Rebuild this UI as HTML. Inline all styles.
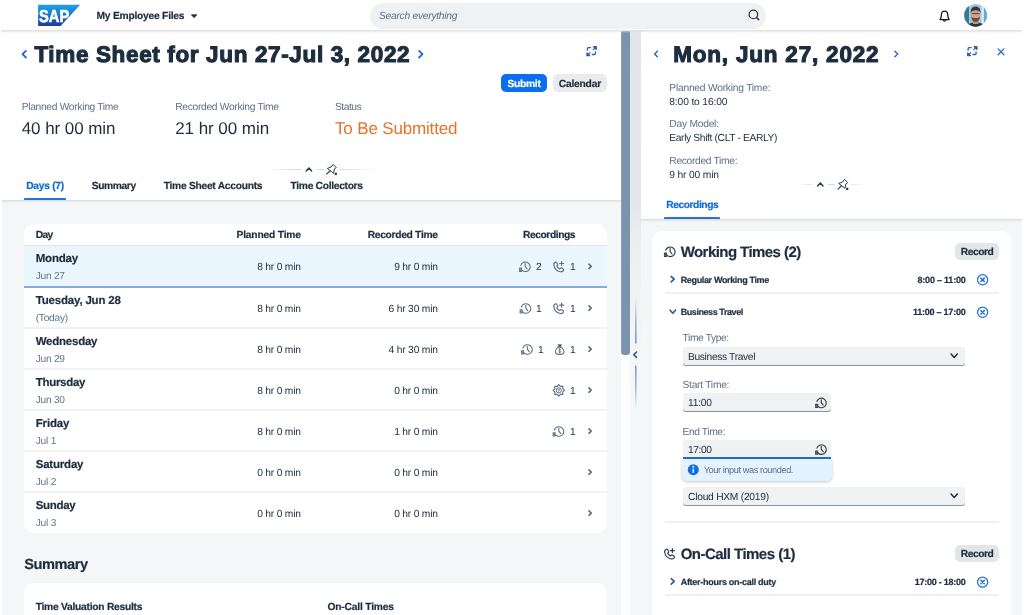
<!DOCTYPE html>
<html lang="en">
<head>
<meta charset="utf-8">
<title>Time Sheet</title>
<style>
*{box-sizing:border-box;margin:0;padding:0}
html,body{width:1024px;height:615px;overflow:hidden;background:#fff;font-family:"Liberation Sans",sans-serif;color:#1d2d3e;font-size:10.5px;text-rendering:geometricPrecision}
body{position:relative}
.a{position:absolute;white-space:nowrap;line-height:1}
.b{font-weight:bold;-webkit-text-stroke:0.2px currentColor}
.i{font-style:italic}
.p{position:absolute}
svg{position:absolute;overflow:visible}
#shell{left:0;top:0;width:1024px;height:30px;background:#fff}
.shd{position:absolute;height:3px;background:linear-gradient(180deg,rgba(204,208,213,.62) 0,rgba(210,214,218,.62) 33%,rgba(222,225,228,.4) 66%,rgba(235,238,240,0) 100%)}
#search{left:370px;top:3px;width:396px;height:26px;border-radius:13px;background:#eff1f2}
#page{left:2px;top:31px;width:1020px;height:584px;background:#f5f6f7}
#lhead{left:0;top:31px;width:621px;height:169px;background:#fff}
#rhead{left:641px;top:31px;width:383px;height:188px;background:#fff}
#sbtrack{left:621px;top:31px;width:9px;height:584px;background:#fdfdfe}
#strip{left:630px;top:31px;width:11px;height:584px;background:linear-gradient(180deg,#e2e5e8 0,#e4e7ea 169px,#eceef0 215px,#f1f3f4 280px,#f5f6f7 340px)}
#sbthumb{left:621px;top:31px;width:9px;height:324px;background:#7b93ad;border-radius:1px 1px 3px 3px;box-shadow:inset 0.5px 0 0 rgba(255,255,255,.25)}
.btn{position:absolute;border-radius:5px}
.card{position:absolute;background:#fff;border-radius:10px}
.rsep{position:absolute;left:24px;width:583px;height:2px;background:linear-gradient(180deg,#f3f5f7 0,#edeff2 50%,#f3f5f7 100%)}
.inp{position:absolute;background:#eff1f2;border-radius:3px;box-shadow:0 1px 0 #8593a2}
.irow{position:absolute;left:665px;width:334px;height:2px;border-radius:1px;background:linear-gradient(180deg,#f1f3f5 0,#e9ecef 55%,#f3f5f6 100%)}
.cbtn{position:absolute;width:16px;height:16px;border-radius:8px;background:#fff;box-shadow:0 0 2px rgba(34,53,72,.06)}
</style>
</head>
<body>
<div class="p" id="page"></div>
<div class="p" id="sbtrack"></div>
<div class="p" id="strip"></div>
<div class="p" id="sbthumb"></div>

<!-- left body -->
<div class="card" style="left:24px;top:223.5px;width:583px;height:309px"></div>
<div class="p" style="left:24px;top:245px;width:583px;height:43px;background:#ebf7ff;border-top:1px solid #dfe4e9;border-bottom:2px solid #86abdf"></div>
<div class="rsep" style="top:327px"></div>
<div class="rsep" style="top:368px"></div>
<div class="rsep" style="top:409px"></div>
<div class="rsep" style="top:450px"></div>
<div class="rsep" style="top:491px"></div>
<div class="card" style="left:24px;top:582.5px;width:583px;height:60px"></div>

<!-- right body -->
<div class="card" style="left:651.7px;top:231px;width:359px;height:420px"></div>
<div class="irow" style="top:291.5px"></div>
<div class="irow" style="top:520.5px"></div>
<div class="irow" style="top:593.5px"></div>
<div class="btn" style="left:955px;top:242.7px;width:43.7px;height:17px;background:#e3e6e9"></div>
<div class="btn" style="left:955px;top:545.3px;width:43.7px;height:17px;background:#e3e6e9"></div>
<div class="inp" style="left:682.5px;top:346.8px;width:282.5px;height:18px"></div>
<div class="inp" style="left:682.5px;top:393px;width:148.8px;height:18px"></div>
<div class="inp" style="left:682.5px;top:440px;width:148.8px;height:17px;box-shadow:none;border-radius:3px 3px 0 0"></div>
<div class="p" style="left:682.5px;top:457px;width:148.8px;height:1.5px;background:#1f6fcb"></div>
<div class="inp" style="left:682.5px;top:486.8px;width:282.5px;height:18px"></div>
<div class="p" style="left:682px;top:458.5px;width:150px;height:22.5px;background:#e4f2fe;border-radius:0 0 5px 5px;box-shadow:0 1px 3px rgba(34,53,72,.28)"></div>

<!-- heads -->
<div class="p" id="lhead"></div>
<div class="p" id="rhead"></div>
<div class="btn" style="left:501px;top:74px;width:46px;height:18px;background:#0a6fee"></div>
<div class="btn" style="left:553px;top:74px;width:54px;height:18px;background:#e9ebed"></div>
<div class="p" style="left:24.2px;top:198.3px;width:42px;height:2.2px;background:#2574d4;border-radius:1px 1px 0 0"></div>
<div class="p" style="left:664.2px;top:217.3px;width:56.3px;height:2.2px;background:#2574d4;border-radius:1px 1px 0 0"></div>
<div class="p" style="left:265px;top:169px;width:111px;height:1px;background:linear-gradient(90deg,rgba(205,209,214,0),rgba(205,209,214,.8) 30%,rgba(205,209,214,.8) 70%,rgba(205,209,214,0))"></div>
<div class="cbtn" style="left:301px;top:161.5px"></div>
<div class="cbtn" style="left:323.5px;top:161.5px"></div>
<div class="p" style="left:796px;top:184px;width:70px;height:1px;background:linear-gradient(90deg,rgba(205,209,214,0),rgba(205,209,214,.8) 30%,rgba(205,209,214,.8) 70%,rgba(205,209,214,0))"></div>
<div class="cbtn" style="left:812px;top:176.5px"></div>
<div class="cbtn" style="left:835px;top:176.5px"></div>

<div class="shd" style="left:2px;top:200px;width:619px"></div>
<div class="shd" style="left:641px;top:219px;width:381px"></div>
<div class="p" id="shell"></div>
<div class="shd" style="left:1px;top:30px;width:1021px"></div>
<div class="p" id="search"></div>

<svg width="1024" height="615" viewBox="0 0 1024 615" style="left:0;top:0">
<defs><linearGradient id="sapg" x1="0" y1="0" x2="0" y2="1"><stop offset="0" stop-color="#1f9fe5"/><stop offset="0.4" stop-color="#1c80d2"/><stop offset="0.8" stop-color="#1d4fae"/><stop offset="1" stop-color="#1c3f9a"/></linearGradient><clipPath id="avc"><circle cx="975.6" cy="15.3" r="11.4"/></clipPath></defs>
<polygon points="38.1,4.8 80.2,4.8 60.6,25.9 38.1,25.9" fill="url(#sapg)"/>
<text x="39" y="21.6" font-family="Liberation Sans, sans-serif" font-weight="bold" font-size="17.2" fill="#fff" textLength="30.2" lengthAdjust="spacingAndGlyphs" stroke="#fff" stroke-width="0.6">SAP</text>
<path d="M191.4 14.8 H196.8 L194.1 17.7 Z" fill="#1d2d3e" stroke="#1d2d3e" stroke-width="0.8" stroke-linejoin="round"/>
<circle cx="753.4" cy="14.4" r="4.25" fill="none" stroke="#2a3746" stroke-width="1.3"/><path d="M756.6 17.6 L758.7 19.6" stroke="#2a3746" stroke-width="1.5" stroke-linecap="round"/>
<path d="M940 19.6 C941.3 18.2 941.4 16.8 941.4 15 C941.4 12.6 942.8 11.1 944.6 11.1 C946.4 11.1 947.8 12.6 947.8 15 C947.8 16.8 947.9 18.2 949.2 19.6 Z" fill="none" stroke="#111a24" stroke-width="1.25" stroke-linejoin="round"/><path d="M943.4 20.6 Q944.6 21.8 945.8 20.6" fill="none" stroke="#111a24" stroke-width="1.2" stroke-linecap="round"/>
<g clip-path="url(#avc)"><rect x="964" y="3.5" width="23.5" height="23.5" fill="#9fc9e2"/><rect x="964" y="3.5" width="5" height="23.5" fill="#3b7892"/><rect x="981.5" y="3.5" width="2.2" height="23.5" fill="#dbeef8"/><rect x="984" y="3.5" width="3.6" height="23.5" fill="#6fa8c6"/><ellipse cx="975.6" cy="27.5" rx="9.5" ry="5.2" fill="#27383d"/><rect x="973" y="19" width="5.4" height="5" fill="#c98e78"/><ellipse cx="975.6" cy="15" rx="4.7" ry="6" fill="#d3a08a"/><path d="M970.7 13.2 C970.4 8.6 972.6 6.6 975.6 6.6 C978.6 6.6 980.8 8.6 980.5 13.2 C979.8 11 978.6 10.2 975.6 10.2 C972.6 10.2 971.4 11 970.7 13.2 Z" fill="#3a3634"/><path d="M971.2 16.4 C971.6 20.4 973.4 21.8 975.6 21.8 C977.8 21.8 979.6 20.4 980 16.4 C978.8 18.2 977.4 18 975.6 18 C973.8 18 972.4 18.2 971.2 16.4 Z" fill="#6a4a3c"/><path d="M971.6 13.6 H979.6" stroke="#4a3c38" stroke-width="0.9"/></g>
<path d="M25.90 50.90 L22.50 54.20 L25.90 57.50" fill="none" stroke="#1f66c9" stroke-width="1.8" stroke-linecap="round" stroke-linejoin="round"/>
<path d="M419.10 50.90 L422.50 54.20 L419.10 57.50" fill="none" stroke="#1f66c9" stroke-width="1.8" stroke-linecap="round" stroke-linejoin="round"/>
<g transform="translate(586.2 45.9)" ><path d="M1.2 4.3 V2.8 Q1.2 1.8 2.2 1.8 H4.3 M9.2 6.1 V7.6 Q9.2 8.6 8.2 8.6 H6.1" fill="none" stroke="#2f5cae" stroke-width="1.3" stroke-linecap="round" stroke-linejoin="round"/><path d="M7.2 0.7 H10.1 V3.6 Z M0.7 6.9 V9.8 H3.6 Z" fill="#2f5cae" stroke="#2f5cae" stroke-width="1.1" stroke-linejoin="round"/><path d="M9.6 1.2 L7 3.8 M1.2 9.3 L3.8 6.7" stroke="#2f5cae" stroke-width="1.2" stroke-linecap="round"/></g>
<path d="M306.20 170.95 L308.90 168.05 L311.60 170.95" fill="none" stroke="#2b3a4a" stroke-width="1.5" stroke-linecap="round" stroke-linejoin="round"/>
<g transform="translate(331.5 169.4)"><path d="M1.6 -5 L4.8 -1.8 L2.9 -0.5 L2.1 3.9 L-4.2 -1 L-0.3 -2.4 Z" fill="none" stroke="#2b3a4a" stroke-width="1" stroke-linejoin="round"/><path d="M-1.6 1.6 L-4.9 4.7" stroke="#2b3a4a" stroke-width="1.1" stroke-linecap="round"/><path d="M3.4 3.5 L5.2 5.3 M5.2 3.5 L3.4 5.3" stroke="#2b3a4a" stroke-width="1.35" stroke-linecap="butt"/></g>
<path d="M657.40 51.20 L654.60 54.00 L657.40 56.80" fill="none" stroke="#2a6cc6" stroke-width="1.5" stroke-linecap="round" stroke-linejoin="round"/>
<path d="M894.90 51.20 L897.70 54.00 L894.90 56.80" fill="none" stroke="#2a6cc6" stroke-width="1.5" stroke-linecap="round" stroke-linejoin="round"/>
<g transform="translate(966.9 45.9)" ><path d="M1.2 4.3 V2.8 Q1.2 1.8 2.2 1.8 H4.3 M9.2 6.1 V7.6 Q9.2 8.6 8.2 8.6 H6.1" fill="none" stroke="#2f5cae" stroke-width="1.3" stroke-linecap="round" stroke-linejoin="round"/><path d="M7.2 0.7 H10.1 V3.6 Z M0.7 6.9 V9.8 H3.6 Z" fill="#2f5cae" stroke="#2f5cae" stroke-width="1.1" stroke-linejoin="round"/><path d="M9.6 1.2 L7 3.8 M1.2 9.3 L3.8 6.7" stroke="#2f5cae" stroke-width="1.2" stroke-linecap="round"/></g>
<path d="M998.1 48.9 L1003.9 54.699999999999996 M1003.9 48.9 L998.1 54.699999999999996" stroke="#2a6cc6" stroke-width="1.3" stroke-linecap="round"/>
<path d="M817.60 185.95 L820.30 183.05 L823.00 185.95" fill="none" stroke="#2b3a4a" stroke-width="1.5" stroke-linecap="round" stroke-linejoin="round"/>
<g transform="translate(842.9 184.4)"><path d="M1.6 -5 L4.8 -1.8 L2.9 -0.5 L2.1 3.9 L-4.2 -1 L-0.3 -2.4 Z" fill="none" stroke="#2b3a4a" stroke-width="1" stroke-linejoin="round"/><path d="M-1.6 1.6 L-4.9 4.7" stroke="#2b3a4a" stroke-width="1.1" stroke-linecap="round"/><path d="M3.4 3.5 L5.2 5.3 M5.2 3.5 L3.4 5.3" stroke="#2b3a4a" stroke-width="1.35" stroke-linecap="butt"/></g>
<defs><linearGradient id="spl1" x1="0" y1="297" x2="0" y2="343.5" gradientUnits="userSpaceOnUse"><stop offset="0" stop-color="#9fb4d4" stop-opacity="0"/><stop offset="0.5" stop-color="#8fa8d0" stop-opacity="0.8"/><stop offset="1" stop-color="#7f9bcb"/></linearGradient><linearGradient id="spl2" x1="0" y1="365.5" x2="0" y2="410" gradientUnits="userSpaceOnUse"><stop offset="0" stop-color="#7f9bcb"/><stop offset="0.5" stop-color="#8fa8d0" stop-opacity="0.8"/><stop offset="1" stop-color="#9fb4d4" stop-opacity="0"/></linearGradient></defs>
<rect x="635" y="297" width="1.6" height="46.5" fill="url(#spl1)"/><rect x="635" y="365.5" width="1.6" height="44.5" fill="url(#spl2)"/>
<path d="M636.60 352.00 L633.80 354.70 L636.60 357.40" fill="none" stroke="#2f5d9e" stroke-width="1.6" stroke-linecap="round" stroke-linejoin="round"/>
<g transform="translate(518.9 261.0) scale(1.0)"><path d="M3.1 9.2 A4.8 4.8 0 1 0 1.9 4.3" fill="none" stroke="#5a6e84" stroke-width="1.05" stroke-linecap="round"/><path d="M6.3 2.6 V5.5 L8.2 7.9" fill="none" stroke="#5a6e84" stroke-width="1.05" stroke-linecap="round" stroke-linejoin="round"/><rect x="0.1" y="6.6" width="3.1" height="4.3" rx="0.5" fill="#5a6e84"/><path d="M0.7 8 H2.6 M0.7 9.5 H2.6" stroke="#fff" stroke-width="0.45" opacity="0.7"/></g>
<g transform="translate(553 261.2) scale(1.0)"><path d="M2.6 0.9 C1.3 1.3 0.6 2.6 0.9 4.2 C1.5 7.4 4.2 10 7.4 10.6 C9 10.9 10.3 10 10.6 8.8 C10.7 8.4 10.5 8 10.2 7.8 L8.6 6.8 C8.2 6.6 7.8 6.6 7.5 6.9 L6.7 7.7 C5.4 7.1 4.4 6.1 3.8 4.8 L4.6 4 C4.9 3.7 4.9 3.2 4.7 2.9 L3.7 1.3 C3.5 0.9 3 0.8 2.6 0.9 Z" fill="none" stroke="#5a6e84" stroke-width="1.15" stroke-linejoin="round"/><path d="M8.6 0.3 V4.3 M6.6 2.3 H10.6" stroke="#5a6e84" stroke-width="1.15" stroke-linecap="round"/></g>
<g transform="translate(519.5 302.7) scale(1.0)"><path d="M3.1 9.2 A4.8 4.8 0 1 0 1.9 4.3" fill="none" stroke="#5a6e84" stroke-width="1.05" stroke-linecap="round"/><path d="M6.3 2.6 V5.5 L8.2 7.9" fill="none" stroke="#5a6e84" stroke-width="1.05" stroke-linecap="round" stroke-linejoin="round"/><rect x="0.1" y="6.6" width="3.1" height="4.3" rx="0.5" fill="#5a6e84"/><path d="M0.7 8 H2.6 M0.7 9.5 H2.6" stroke="#fff" stroke-width="0.45" opacity="0.7"/></g>
<g transform="translate(553 302.9) scale(1.0)"><path d="M2.6 0.9 C1.3 1.3 0.6 2.6 0.9 4.2 C1.5 7.4 4.2 10 7.4 10.6 C9 10.9 10.3 10 10.6 8.8 C10.7 8.4 10.5 8 10.2 7.8 L8.6 6.8 C8.2 6.6 7.8 6.6 7.5 6.9 L6.7 7.7 C5.4 7.1 4.4 6.1 3.8 4.8 L4.6 4 C4.9 3.7 4.9 3.2 4.7 2.9 L3.7 1.3 C3.5 0.9 3 0.8 2.6 0.9 Z" fill="none" stroke="#5a6e84" stroke-width="1.15" stroke-linejoin="round"/><path d="M8.6 0.3 V4.3 M6.6 2.3 H10.6" stroke="#5a6e84" stroke-width="1.15" stroke-linecap="round"/></g>
<g transform="translate(521 343.7) scale(1.0)"><path d="M3.1 9.2 A4.8 4.8 0 1 0 1.9 4.3" fill="none" stroke="#5a6e84" stroke-width="1.05" stroke-linecap="round"/><path d="M6.3 2.6 V5.5 L8.2 7.9" fill="none" stroke="#5a6e84" stroke-width="1.05" stroke-linecap="round" stroke-linejoin="round"/><rect x="0.1" y="6.6" width="3.1" height="4.3" rx="0.5" fill="#5a6e84"/><path d="M0.7 8 H2.6 M0.7 9.5 H2.6" stroke="#fff" stroke-width="0.45" opacity="0.7"/></g>
<g transform="translate(554.8 343.9)" ><path d="M3.4 3.2 C1.6 4.6 0.6 6.2 0.6 7.8 C0.6 9.6 2.2 10.5 4.9 10.5 C7.6 10.5 9.2 9.6 9.2 7.8 C9.2 6.2 8.2 4.6 6.4 3.2 Z" fill="none" stroke="#5a6e84" stroke-width="1.1" stroke-linejoin="round"/><path d="M3.2 0.6 H6.6 L6.2 3 H3.6 Z" fill="#5a6e84" stroke="#5a6e84" stroke-width="0.6" stroke-linejoin="round"/><path d="M5.9 5.6 C5.2 5.1 3.9 5.3 3.9 6.1 C3.9 7.1 5.9 6.8 5.9 7.8 C5.9 8.6 4.6 8.8 3.9 8.3 M4.9 4.7 V9.2" fill="none" stroke="#5a6e84" stroke-width="0.8" stroke-linecap="round"/></g>
<g transform="translate(553 384.7)" ><polygon points="5.80,-0.10 7.45,1.63 9.83,1.57 9.77,3.95 11.50,5.60 9.77,7.25 9.83,9.63 7.45,9.57 5.80,11.30 4.15,9.57 1.77,9.63 1.83,7.25 0.10,5.60 1.83,3.95 1.77,1.57 4.15,1.63" fill="none" stroke="#5a6e84" stroke-width="1.1" stroke-linejoin="round"/><circle cx="5.8" cy="5.6" r="2.6" fill="none" stroke="#5a6e84" stroke-width="1"/><path d="M4.6 5 H7 M5.8 5 V7" stroke="#5a6e84" stroke-width="0.8"/></g>
<g transform="translate(552.5 425.7) scale(1.0)"><path d="M3.1 9.2 A4.8 4.8 0 1 0 1.9 4.3" fill="none" stroke="#5a6e84" stroke-width="1.05" stroke-linecap="round"/><path d="M6.3 2.6 V5.5 L8.2 7.9" fill="none" stroke="#5a6e84" stroke-width="1.05" stroke-linecap="round" stroke-linejoin="round"/><rect x="0.1" y="6.6" width="3.1" height="4.3" rx="0.5" fill="#5a6e84"/><path d="M0.7 8 H2.6 M0.7 9.5 H2.6" stroke="#fff" stroke-width="0.45" opacity="0.7"/></g>
<path d="M588.95 264.15 L591.25 266.40 L588.95 268.65" fill="none" stroke="#56697e" stroke-width="1.5" stroke-linecap="round" stroke-linejoin="round"/>
<path d="M588.95 305.85 L591.25 308.10 L588.95 310.35" fill="none" stroke="#56697e" stroke-width="1.5" stroke-linecap="round" stroke-linejoin="round"/>
<path d="M588.95 346.85 L591.25 349.10 L588.95 351.35" fill="none" stroke="#56697e" stroke-width="1.5" stroke-linecap="round" stroke-linejoin="round"/>
<path d="M588.95 387.85 L591.25 390.10 L588.95 392.35" fill="none" stroke="#56697e" stroke-width="1.5" stroke-linecap="round" stroke-linejoin="round"/>
<path d="M588.95 428.85 L591.25 431.10 L588.95 433.35" fill="none" stroke="#56697e" stroke-width="1.5" stroke-linecap="round" stroke-linejoin="round"/>
<path d="M588.95 469.85 L591.25 472.10 L588.95 474.35" fill="none" stroke="#56697e" stroke-width="1.5" stroke-linecap="round" stroke-linejoin="round"/>
<path d="M588.95 510.85 L591.25 513.10 L588.95 515.35" fill="none" stroke="#56697e" stroke-width="1.5" stroke-linecap="round" stroke-linejoin="round"/>
<g transform="translate(663.8 246) scale(1.0)"><path d="M3.1 9.2 A4.8 4.8 0 1 0 1.9 4.3" fill="none" stroke="#2b3a4a" stroke-width="1.15" stroke-linecap="round"/><path d="M6.3 2.6 V5.5 L8.2 7.9" fill="none" stroke="#2b3a4a" stroke-width="1.15" stroke-linecap="round" stroke-linejoin="round"/><rect x="0.1" y="6.6" width="3.1" height="4.3" rx="0.5" fill="#2b3a4a"/><path d="M0.7 8 H2.6 M0.7 9.5 H2.6" stroke="#fff" stroke-width="0.45" opacity="0.7"/></g>
<g transform="translate(663.8 548.3) scale(1.0)"><path d="M2.6 0.9 C1.3 1.3 0.6 2.6 0.9 4.2 C1.5 7.4 4.2 10 7.4 10.6 C9 10.9 10.3 10 10.6 8.8 C10.7 8.4 10.5 8 10.2 7.8 L8.6 6.8 C8.2 6.6 7.8 6.6 7.5 6.9 L6.7 7.7 C5.4 7.1 4.4 6.1 3.8 4.8 L4.6 4 C4.9 3.7 4.9 3.2 4.7 2.9 L3.7 1.3 C3.5 0.9 3 0.8 2.6 0.9 Z" fill="none" stroke="#2b3a4a" stroke-width="1.15" stroke-linejoin="round"/><path d="M8.6 0.3 V4.3 M6.6 2.3 H10.6" stroke="#2b3a4a" stroke-width="1.15" stroke-linecap="round"/></g>
<path d="M671.20 276.50 L674.20 279.20 L671.20 281.90" fill="none" stroke="#2f5d9e" stroke-width="1.7" stroke-linecap="round" stroke-linejoin="round"/>
<path d="M670.10 310.20 L672.80 313.20 L675.50 310.20" fill="none" stroke="#2f5d9e" stroke-width="1.7" stroke-linecap="round" stroke-linejoin="round"/>
<path d="M671.20 578.70 L674.20 581.40 L671.20 584.10" fill="none" stroke="#2f5d9e" stroke-width="1.7" stroke-linecap="round" stroke-linejoin="round"/>
<circle cx="982.6" cy="279.8" r="5.1" fill="#f7fbff" stroke="#2f6fc6" stroke-width="1.25"/>
<path d="M980.9 278.1 L984.3000000000001 281.5 M984.3000000000001 278.1 L980.9 281.5" stroke="#2f6fc6" stroke-width="1.5" stroke-linecap="round"/>
<circle cx="982.6" cy="312.3" r="5.1" fill="#f7fbff" stroke="#2f6fc6" stroke-width="1.25"/>
<path d="M980.9 310.6 L984.3000000000001 314.0 M984.3000000000001 310.6 L980.9 314.0" stroke="#2f6fc6" stroke-width="1.5" stroke-linecap="round"/>
<circle cx="982.6" cy="582.1" r="5.1" fill="#f7fbff" stroke="#2f6fc6" stroke-width="1.25"/>
<path d="M980.9 580.4 L984.3000000000001 583.8000000000001 M984.3000000000001 580.4 L980.9 583.8000000000001" stroke="#2f6fc6" stroke-width="1.5" stroke-linecap="round"/>
<path d="M951.10 354.10 L954.20 357.50 L957.30 354.10" fill="none" stroke="#1d2d3e" stroke-width="1.5" stroke-linecap="round" stroke-linejoin="round"/>
<path d="M951.10 494.10 L954.20 497.50 L957.30 494.10" fill="none" stroke="#1d2d3e" stroke-width="1.5" stroke-linecap="round" stroke-linejoin="round"/>
<g transform="translate(815 397.2) scale(1.0)"><path d="M3.1 9.2 A4.8 4.8 0 1 0 1.9 4.3" fill="none" stroke="#2b3a4a" stroke-width="1.1" stroke-linecap="round"/><path d="M6.3 2.6 V5.5 L8.2 7.9" fill="none" stroke="#2b3a4a" stroke-width="1.1" stroke-linecap="round" stroke-linejoin="round"/><rect x="0.1" y="6.6" width="3.1" height="4.3" rx="0.5" fill="#2b3a4a"/><path d="M0.7 8 H2.6 M0.7 9.5 H2.6" stroke="#fff" stroke-width="0.45" opacity="0.7"/></g>
<g transform="translate(815 443.8) scale(1.0)"><path d="M3.1 9.2 A4.8 4.8 0 1 0 1.9 4.3" fill="none" stroke="#2b3a4a" stroke-width="1.1" stroke-linecap="round"/><path d="M6.3 2.6 V5.5 L8.2 7.9" fill="none" stroke="#2b3a4a" stroke-width="1.1" stroke-linecap="round" stroke-linejoin="round"/><rect x="0.1" y="6.6" width="3.1" height="4.3" rx="0.5" fill="#2b3a4a"/><path d="M0.7 8 H2.6 M0.7 9.5 H2.6" stroke="#fff" stroke-width="0.45" opacity="0.7"/></g>
<circle cx="693.3" cy="469.7" r="5.5" fill="#0f6fe0"/><rect x="692.55" y="468.7" width="1.5" height="4.2" fill="#e6f3ff"/><circle cx="693.3" cy="466.8" r="0.95" fill="#e6f3ff"/>
</svg>

<span class="a b" style="left:96.5px;top:12px;font-size:10.25px;letter-spacing:-0.23px;">My Employee Files</span>
<span class="a i" style="left:379.0px;top:12px;font-size:10.25px;letter-spacing:-0.26px;color:#607186;">Search everything</span>
<span class="a b" style="left:34.4px;top:44px;font-size:22.5px;letter-spacing:0.64px;-webkit-text-stroke:1.1px #1d2d3e;">Time Sheet for Jun 27-Jul 3, 2022</span>
<span class="a b" style="left:507.4px;top:80px;font-size:10.25px;letter-spacing:-0.25px;color:#fff;">Submit</span>
<span class="a b" style="left:558.7px;top:80px;font-size:10.25px;letter-spacing:-0.2px;">Calendar</span>
<span class="a" style="left:21.7px;top:103px;font-size:10.25px;letter-spacing:-0.31px;color:#607186;">Planned Working Time</span>
<span class="a" style="left:21.7px;top:120px;font-size:17px;letter-spacing:-0.06px;">40 hr 00 min</span>
<span class="a" style="left:175.2px;top:103px;font-size:10.25px;letter-spacing:-0.3px;color:#607186;">Recorded Working Time</span>
<span class="a" style="left:175.2px;top:120px;font-size:17px;letter-spacing:-0.05px;">21 hr 00 min</span>
<span class="a" style="left:335.0px;top:103px;font-size:10.25px;letter-spacing:-0.47px;color:#607186;">Status</span>
<span class="a" style="left:335.0px;top:120px;font-size:17px;letter-spacing:-0.16px;color:#e2732a;">To Be Submitted</span>
<span class="a b" style="left:26.2px;top:182px;font-size:10.25px;letter-spacing:-0.27px;color:#1269d3;">Days (7)</span>
<span class="a b" style="left:91.7px;top:182px;font-size:10.25px;letter-spacing:-0.37px;">Summary</span>
<span class="a b" style="left:163.7px;top:182px;font-size:10.25px;letter-spacing:-0.27px;">Time Sheet Accounts</span>
<span class="a b" style="left:290.5px;top:182px;font-size:10.25px;letter-spacing:-0.3px;">Time Collectors</span>
<span class="a b" style="left:35.7px;top:231px;font-size:10.25px;letter-spacing:-0.66px;">Day</span>
<span class="a b" style="left:236.5px;top:231px;font-size:10.25px;letter-spacing:-0.18px;">Planned Time</span>
<span class="a b" style="left:367.7px;top:231px;font-size:10.25px;letter-spacing:-0.3px;">Recorded Time</span>
<span class="a b" style="left:523.0px;top:231px;font-size:10.25px;letter-spacing:-0.43px;">Recordings</span>
<span class="a b" style="left:35.7px;top:254px;font-size:11.5px;letter-spacing:-0.19px;">Monday</span>
<span class="a" style="left:35.7px;top:272px;font-size:10.2px;letter-spacing:-0.26px;color:#63768b;">Jun 27</span>
<span class="a" style="left:257.2px;top:263px;font-size:10.25px;letter-spacing:-0.2px;">8 hr 0 min</span>
<span class="a" style="left:394.2px;top:263px;font-size:10.25px;letter-spacing:-0.2px;">9 hr 0 min</span>
<span class="a b" style="left:35.7px;top:296px;font-size:11.5px;letter-spacing:-0.18px;">Tuesday, Jun 28</span>
<span class="a" style="left:35.7px;top:314px;font-size:10.2px;letter-spacing:-0.24px;color:#63768b;">(Today)</span>
<span class="a" style="left:257.2px;top:305px;font-size:10.25px;letter-spacing:-0.2px;">8 hr 0 min</span>
<span class="a" style="left:388.5px;top:305px;font-size:10.25px;letter-spacing:-0.18px;">6 hr 30 min</span>
<span class="a b" style="left:35.7px;top:337px;font-size:11.5px;letter-spacing:-0.24px;">Wednesday</span>
<span class="a" style="left:35.7px;top:355px;font-size:10.2px;letter-spacing:-0.26px;color:#63768b;">Jun 29</span>
<span class="a" style="left:257.2px;top:346px;font-size:10.25px;letter-spacing:-0.2px;">8 hr 0 min</span>
<span class="a" style="left:388.5px;top:346px;font-size:10.25px;letter-spacing:-0.18px;">4 hr 30 min</span>
<span class="a b" style="left:35.7px;top:378px;font-size:11.5px;letter-spacing:-0.28px;">Thursday</span>
<span class="a" style="left:35.7px;top:396px;font-size:10.2px;letter-spacing:-0.26px;color:#63768b;">Jun 30</span>
<span class="a" style="left:257.2px;top:387px;font-size:10.25px;letter-spacing:-0.2px;">8 hr 0 min</span>
<span class="a" style="left:394.2px;top:387px;font-size:10.25px;letter-spacing:-0.2px;">0 hr 0 min</span>
<span class="a b" style="left:35.7px;top:419px;font-size:11.5px;letter-spacing:-0.14px;">Friday</span>
<span class="a" style="left:35.7px;top:437px;font-size:10.2px;letter-spacing:-0.18px;color:#63768b;">Jul 1</span>
<span class="a" style="left:257.2px;top:428px;font-size:10.25px;letter-spacing:-0.2px;">8 hr 0 min</span>
<span class="a" style="left:394.2px;top:428px;font-size:10.25px;letter-spacing:-0.2px;">1 hr 0 min</span>
<span class="a b" style="left:35.7px;top:460px;font-size:11.5px;letter-spacing:-0.2px;">Saturday</span>
<span class="a" style="left:35.7px;top:478px;font-size:10.2px;letter-spacing:-0.18px;color:#63768b;">Jul 2</span>
<span class="a" style="left:257.2px;top:469px;font-size:10.25px;letter-spacing:-0.2px;">0 hr 0 min</span>
<span class="a" style="left:394.2px;top:469px;font-size:10.25px;letter-spacing:-0.2px;">0 hr 0 min</span>
<span class="a b" style="left:35.7px;top:501px;font-size:11.5px;letter-spacing:-0.31px;">Sunday</span>
<span class="a" style="left:35.7px;top:519px;font-size:10.2px;letter-spacing:-0.18px;color:#63768b;">Jul 3</span>
<span class="a" style="left:257.2px;top:510px;font-size:10.25px;letter-spacing:-0.2px;">0 hr 0 min</span>
<span class="a" style="left:394.2px;top:510px;font-size:10.25px;letter-spacing:-0.2px;">0 hr 0 min</span>
<span class="a" style="left:535.9px;top:263px;font-size:10.25px;">2</span>
<span class="a" style="left:570.1px;top:263px;font-size:10.25px;">1</span>
<span class="a" style="left:535.9px;top:305px;font-size:10.25px;">1</span>
<span class="a" style="left:570.1px;top:305px;font-size:10.25px;">1</span>
<span class="a" style="left:537.9px;top:346px;font-size:10.25px;">1</span>
<span class="a" style="left:570.1px;top:346px;font-size:10.25px;">1</span>
<span class="a" style="left:570.1px;top:387px;font-size:10.25px;">1</span>
<span class="a" style="left:570.1px;top:428px;font-size:10.25px;">1</span>
<span class="a b" style="left:24.2px;top:558px;font-size:14.6px;letter-spacing:-0.45px;">Summary</span>
<span class="a b" style="left:35.7px;top:603px;font-size:10.25px;letter-spacing:-0.25px;">Time Valuation Results</span>
<span class="a b" style="left:327.5px;top:603px;font-size:10.25px;letter-spacing:-0.19px;">On-Call Times</span>
<span class="a b" style="left:673.2px;top:44px;font-size:22.5px;letter-spacing:0.8px;-webkit-text-stroke:1.1px #1d2d3e;">Mon, Jun 27, 2022</span>
<span class="a" style="left:669.3px;top:84px;font-size:10.25px;letter-spacing:-0.23px;color:#607186;">Planned Working Time:</span>
<span class="a" style="left:669.3px;top:98px;font-size:10.25px;letter-spacing:-0.14px;">8:00 to 16:00</span>
<span class="a" style="left:669.3px;top:120px;font-size:10.25px;letter-spacing:-0.24px;color:#607186;">Day Model:</span>
<span class="a" style="left:669.3px;top:134px;font-size:10.25px;letter-spacing:-0.36px;">Early Shift (CLT - EARLY)</span>
<span class="a" style="left:669.3px;top:157px;font-size:10.25px;letter-spacing:-0.32px;color:#607186;">Recorded Time:</span>
<span class="a" style="left:669.3px;top:171px;font-size:10.25px;letter-spacing:-0.16px;">9 hr 00 min</span>
<span class="a b" style="left:666.2px;top:201px;font-size:10.25px;letter-spacing:-0.43px;color:#1269d3;">Recordings</span>
<span class="a b" style="left:680.7px;top:245px;font-size:15px;letter-spacing:-0.56px;">Working Times (2)</span>
<span class="a b" style="left:960.8px;top:248px;font-size:10.25px;letter-spacing:-0.47px;">Record</span>
<span class="a b" style="left:680.7px;top:276px;font-size:9px;letter-spacing:-0.35px;">Regular Working Time</span>
<span class="a b" style="left:917.5px;top:276px;font-size:9px;letter-spacing:-0.21px;">8:00 – 11:00</span>
<span class="a b" style="left:680.7px;top:308px;font-size:9px;letter-spacing:-0.43px;">Business Travel</span>
<span class="a b" style="left:913.0px;top:308px;font-size:9px;letter-spacing:-0.24px;">11:00 – 17:00</span>
<span class="a" style="left:682.5px;top:334px;font-size:10.25px;letter-spacing:-0.38px;color:#607186;">Time Type:</span>
<span class="a" style="left:688.0px;top:353px;font-size:10.25px;letter-spacing:-0.35px;">Business Travel</span>
<span class="a" style="left:682.5px;top:381px;font-size:10.25px;letter-spacing:-0.26px;color:#607186;">Start Time:</span>
<span class="a" style="left:688.0px;top:399px;font-size:10.25px;letter-spacing:-0.22px;">11:00</span>
<span class="a" style="left:682.5px;top:428px;font-size:10.25px;letter-spacing:-0.39px;color:#607186;">End Time:</span>
<span class="a" style="left:688.0px;top:446px;font-size:10.25px;letter-spacing:-0.41px;">17:00</span>
<span class="a" style="left:703.7px;top:466px;font-size:9.25px;letter-spacing:-0.44px;color:#607186;">Your input was rounded.</span>
<span class="a" style="left:688.0px;top:493px;font-size:10.25px;letter-spacing:-0.25px;">Cloud HXM (2019)</span>
<span class="a b" style="left:680.7px;top:547px;font-size:15px;letter-spacing:-0.52px;">On-Call Times (1)</span>
<span class="a b" style="left:960.8px;top:550px;font-size:10.25px;letter-spacing:-0.47px;">Record</span>
<span class="a b" style="left:680.7px;top:578px;font-size:9px;letter-spacing:-0.28px;">After-hours on-call duty</span>
<span class="a b" style="left:914.7px;top:578px;font-size:9px;letter-spacing:-0.25px;">17:00 - 18:00</span>
</body>
</html>
